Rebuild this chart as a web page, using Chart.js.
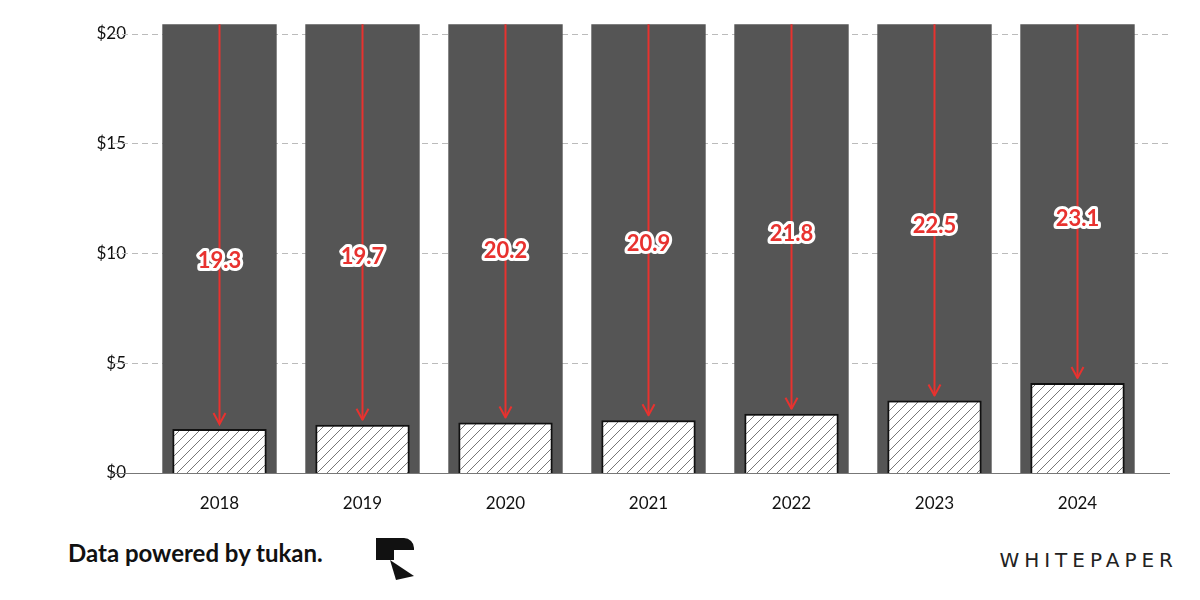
<!DOCTYPE html>
<html>
<head>
<meta charset="utf-8">
<script src="https://cdn.jsdelivr.net/npm/chart.js@4"></script>
<style>
  body { margin: 0; background: #fff; width: 1200px; height: 600px; overflow: hidden; font-family: "Open Sans", sans-serif; }
  #wrap { position: absolute; left: 0; top: 0; width: 1200px; height: 520px; }
  #credit { position: absolute; left: 68px; top: 538px; font: bold 24px "Lato", sans-serif; color: #111; }
  #logo { position: absolute; left: 374px; top: 536px; }
  #brand { position: absolute; right: 22px; top: 548px; font: 20px "DejaVu Sans", sans-serif; letter-spacing: 5px; color: #222; }
</style>
</head>
<body>
<div id="wrap"><canvas id="chart" width="1200" height="520"></canvas></div>
<div id="credit">Data powered by tukan.</div>
<svg id="logo" width="42" height="46" viewBox="0 0 42 46">
  <path d="M2 2 H30 A10 10 0 0 1 40 12 V14 H20 V24 H2 Z" fill="#111"/>
  <path d="M16 24 L40 40 L22 44 Z" fill="#111"/>
</svg>
<div id="brand">WHITEPAPER</div>
<script>
const years = ["2018", "2019", "2020", "2021", "2022", "2023", "2024"];
const baseValues = [2.0, 2.2, 2.3, 2.4, 2.7, 3.3, 4.1];
const gapValues = [19.3, 19.7, 20.2, 20.9, 21.8, 22.5, 23.1];
const yTicks = [0, 5, 10, 15, 20];

const totals = baseValues.map((v, i) => +(v + gapValues[i]).toFixed(1));
const ctx = document.getElementById("chart");

function hatch() {
  const c = document.createElement("canvas");
  c.width = 10; c.height = 10;
  const g = c.getContext("2d");
  g.fillStyle = "#fff"; g.fillRect(0, 0, 10, 10);
  g.strokeStyle = "#777"; g.lineWidth = 1;
  g.beginPath();
  g.moveTo(0, 10); g.lineTo(10, 0);
  g.moveTo(-5, 5); g.lineTo(5, -5);
  g.moveTo(5, 15); g.lineTo(15, 5);
  g.stroke();
  return g.createPattern(c, "repeat");
}

// dashed grid lines spanning a little wider than the bars
const gridPlugin = {
  id: "grid",
  beforeDatasetsDraw(chart) {
    const { ctx, scales: { y } } = chart;
    ctx.save();
    ctx.strokeStyle = "#bbb"; ctx.lineWidth = 1; ctx.setLineDash([6, 4]);
    yTicks.slice(1).forEach((t) => {
      const py = Math.round(y.getPixelForValue(t)) + 0.5;
      ctx.beginPath(); ctx.moveTo(112, py); ctx.lineTo(1170, py); ctx.stroke();
    });
    ctx.setLineDash([]);
    ctx.strokeStyle = "#777";
    const p0 = Math.round(y.getPixelForValue(0)) + 0.5;
    ctx.beginPath(); ctx.moveTo(112, p0); ctx.lineTo(1170, p0); ctx.stroke();
    ctx.restore();
  },
};

// red arrows with labels
const arrowPlugin = {
  id: "arrows",
  afterDatasetsDraw(chart) {
    const { ctx, scales: { x, y }, chartArea } = chart;
    ctx.save();
    years.forEach((yr, i) => {
      const px = x.getPixelForValue(i);
      const top = chartArea.top;
      const end = y.getPixelForValue(baseValues[i]) - 5;
      ctx.strokeStyle = "#e8322f"; ctx.fillStyle = "#e8322f"; ctx.lineWidth = 2;
      ctx.beginPath(); ctx.moveTo(px, top); ctx.lineTo(px, end); ctx.stroke();
      ctx.beginPath();
      ctx.moveTo(px - 6, end - 11); ctx.lineTo(px, end); ctx.lineTo(px + 6, end - 11);
      ctx.stroke();
      const ly = y.getPixelForValue(gapValues[i] / 2);
      ctx.font = "bold 22px 'Lato', sans-serif";
      ctx.textAlign = "center"; ctx.textBaseline = "middle";
      ctx.lineJoin = "round";
      ctx.strokeStyle = "#fff"; ctx.lineWidth = 6;
      ctx.strokeText(gapValues[i].toFixed(1), px, ly);
      ctx.fillStyle = "#e8322f";
      ctx.fillText(gapValues[i].toFixed(1), px, ly);
    });
    ctx.restore();
  },
};

new Chart(ctx, {
  type: "bar",
  data: {
    labels: years,
    datasets: [
      {
        data: baseValues,
        backgroundColor: hatch(),
        borderColor: "#111",
        borderWidth: 2,
        barPercentage: 0.66,
        categoryPercentage: 1,
        order: 0,
      },
      {
        data: totals,
        backgroundColor: "#555",
        barPercentage: 0.8,
        categoryPercentage: 1,
        order: 1,
      },
    ],
  },
  options: {
    responsive: false,
    animation: false,
    devicePixelRatio: 1,
    layout: { padding: { top: 0, right: 51, left: 0, bottom: 0 } },
    plugins: { legend: { display: false }, tooltip: { enabled: false } },
    datasets: { bar: { grouped: false } },
    scales: {
      x: {
        grid: { display: false },
        border: { display: false },
        ticks: { color: "#111", font: { size: 17, family: "Lato" }, padding: 12 },
        afterFit: (s) => { s.height = 47; },
      },
      y: {
        min: 0,
        max: 20.43,
        grid: { display: false },
        border: { display: false },
        afterBuildTicks: (s) => { s.ticks = yTicks.map((v) => ({ value: v })); },
        ticks: { color: "#111", font: { size: 17, family: "Lato" }, padding: 14, callback: (v) => `$${v}` },
        afterFit: (s) => { s.width = 148; },
      },
    },
  },
  plugins: [gridPlugin, arrowPlugin],
});
</script>
</body>
</html>
